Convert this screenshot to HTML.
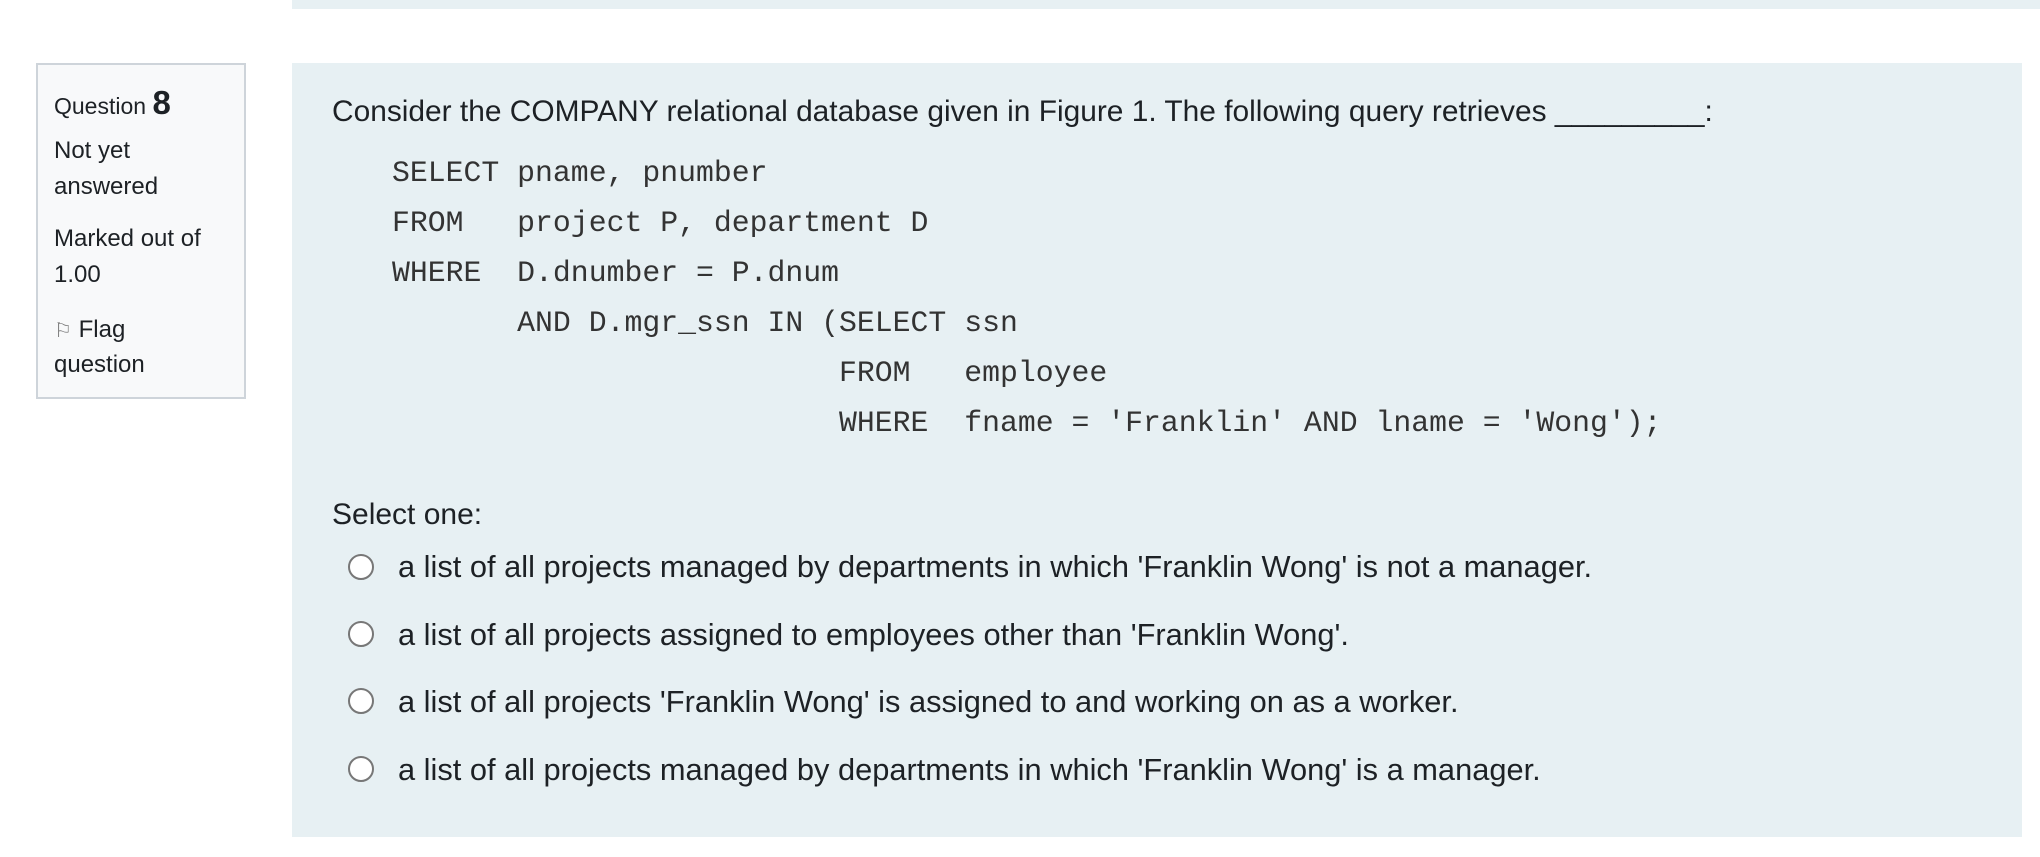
<!DOCTYPE html>
<html><head><style>
body{margin:0;width:2040px;height:857px;background:#fff;position:relative;overflow:hidden;font-family:"Liberation Sans",sans-serif;color:#1d2125}
.top{position:absolute;left:292px;top:0;width:1748px;height:9px;background:#e7f0f3}
.side{position:absolute;left:36px;top:63px;width:210px;height:336px;background:#f8f9fa;border:2px solid #ced4da;box-sizing:border-box}
.side div{position:absolute;left:16px;font-size:24px;line-height:36px}
.main{position:absolute;left:292px;top:63px;width:1730px;height:774px;background:#e7f0f3}
.t{position:absolute;white-space:pre}
.code{font-family:"Liberation Mono",monospace;font-size:29.8px;color:#333}
.opt{font-size:30.8px}
.r{position:absolute;width:22px;height:22px;border:2px solid #777;border-radius:50%;background:#fff;left:56px}
</style></head><body>
<div class="top"></div>
<div class="side">
<div style="top:20px;font-size:23px">Question <b style="font-size:33px">8</b></div>
<div style="top:68px">Not yet</div>
<div style="top:104px">answered</div>
<div style="top:156px">Marked out of</div>
<div style="top:192px">1.00</div>
<div style="top:247px"><span style="font-size:20px;color:#777">⚐</span> Flag</div>
<div style="top:282px">question</div>
</div>
<div class="main">
<div class="t" style="left:40px;top:32px;font-size:29.9px">Consider the COMPANY relational database given in Figure 1. The following query retrieves _________:</div>
<div class="t code" style="left:100px;top:85px;line-height:50px">SELECT pname, pnumber
FROM   project P, department D
WHERE  D.dnumber = P.dnum
       AND D.mgr_ssn IN (SELECT ssn
                         FROM   employee
                         WHERE  fname = 'Franklin' AND lname = 'Wong');</div>
<div class="t opt" style="left:40px;top:435px;font-size:30px">Select one:</div>
<div class="r" style="top:491px"></div><div class="t opt" style="left:106px;top:486px">a list of all projects managed by departments in which 'Franklin Wong' is not a manager.</div>
<div class="r" style="top:558px"></div><div class="t opt" style="left:106px;top:554px">a list of all projects assigned to employees other than 'Franklin Wong'.</div>
<div class="r" style="top:625px"></div><div class="t opt" style="left:106px;top:621px">a list of all projects 'Franklin Wong' is assigned to and working on as a worker.</div>
<div class="r" style="top:693px"></div><div class="t opt" style="left:106px;top:689px">a list of all projects managed by departments in which 'Franklin Wong' is a manager.</div>
</div>
</body></html>
